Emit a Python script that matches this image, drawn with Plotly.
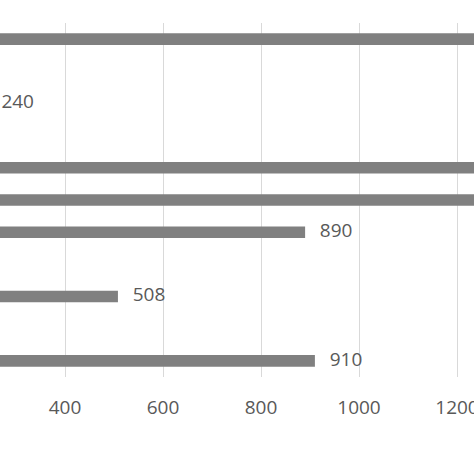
import plotly.graph_objects as go

categories = ["R1", "R2", "R3", "R4", "R5", "R6", "R7", "R8", "R9", "R10", "R11"]
values = [1300, None, 240, None, 1300, 1290, 890, None, 508, None, 910]
labels = [("" if v is None else str(v)) for v in values]

x_range = [267.3, 1234.7]
tick_vals = [400, 600, 800, 1000, 1200]

fig = go.Figure()
fig.add_trace(go.Bar(
    y=categories, x=values, orientation="h",
    marker=dict(color="#808080", line=dict(width=0)),
    width=0.36, cliponaxis=True, hoverinfo="skip",
))
fig.add_trace(go.Scatter(
    y=categories, x=values, mode="markers+text", text=labels,
    textposition="middle right",
    marker=dict(size=22, opacity=0),
    textfont=dict(family="Open Sans", size=19, color="#595959"),
    cliponaxis=True, hoverinfo="skip", showlegend=False,
))

fig.update_layout(
    width=474, height=474,
    margin=dict(l=0, r=0, t=23, b=97, autoexpand=False),
    plot_bgcolor="white", paper_bgcolor="white",
    showlegend=False,
    xaxis=dict(
        range=x_range, tickvals=tick_vals,
        showgrid=True, gridcolor="#d9d9d9", gridwidth=1,
        zeroline=False, showline=False, automargin=False,
        tickfont=dict(family="Open Sans", size=19, color="#595959"),
        ticklabelstandoff=17, ticklabeloverflow="allow",
    ),
    yaxis=dict(
        categoryorder="array", categoryarray=categories,
        range=[len(categories) - 0.5, -0.5], showticklabels=False,
        automargin=False, showgrid=False, zeroline=False, showline=False,
    ),
)

fig.write_html(
    "out.html",
    config={"displayModeBar": False},
    post_script="document.body.style.margin='0';document.body.style.overflow='hidden';",
)
